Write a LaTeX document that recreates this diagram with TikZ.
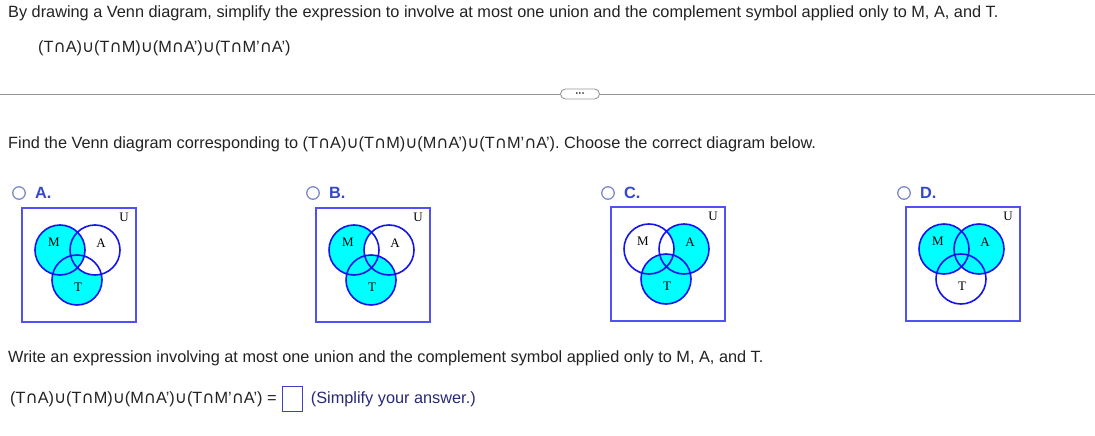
\documentclass[tikz,border=0pt]{standalone}
\usepackage{fontspec}
\setmainfont{Liberation Sans}
\newfontfamily\vennfont{Liberation Serif}
\newfontfamily\setsymfont[Scale=1.02]{DejaVu Sans}
\newcommand{\ucup}{{\setsymfont ∪}}
\newcommand{\icap}{{\setsymfont ∩}}
\usetikzlibrary{positioning}

\definecolor{textgray}{RGB}{34,34,34}
\definecolor{optblue}{RGB}{52,72,200}
\definecolor{radiogray}{RGB}{125,140,200}
\definecolor{rulegray}{RGB}{150,150,150}
\definecolor{vennblue}{RGB}{20,20,235}
\definecolor{boxblue}{RGB}{80,80,245}
\definecolor{venncyan}{RGB}{0,255,255}
\definecolor{hintblue}{RGB}{40,40,120}

\begin{document}
\begin{tikzpicture}
  [x=1pt,y=1pt,
   txt/.style={anchor=base west,inner sep=0pt,text=textgray,font=\fontsize{16.3}{19}\selectfont},
   radio/.style={circle,draw=radiogray,line width=1.3pt,minimum size=12.5pt,inner sep=0pt},
   optlbl/.style={anchor=west,inner sep=0pt,text=optblue,font=\fontsize{16.3}{19}\selectfont\bfseries},
   vennlbl/.style={inner sep=0pt,font=\vennfont\fontsize{13}{13}\selectfont},
   venncircle/.style={draw=vennblue,line width=1.6pt},
   vennbox/.style={draw=boxblue,line width=1.6pt},
   rule/.style={draw=rulegray,line width=0.8pt}]
  \useasboundingbox (0,0) rectangle (1095,-436);

  \node[txt] (intro) at (8,-18) {By drawing a Venn diagram, simplify the expression to involve at most one union and the complement symbol applied only to M, A, and T.};
  \node[txt] (given) at (38,-53) {(T\icap A)\ucup(T\icap M)\ucup(M\icap A')\ucup(T\icap M'\icap A')};

  % divider with the "more" button
  \node[draw=rulegray,line width=0.9pt,rounded corners=5pt,minimum width=39pt,minimum height=10pt,inner sep=0pt] (more) at (580,-94)
    {\fontsize{6}{6}\selectfont\textbullet\,\textbullet\,\textbullet};
  \draw[rule] (0,-94) -- (more.west);
  \draw[rule] (more.east) -- (1095,-94);

  \node[txt] (find) at (8,-148) {Find the Venn diagram corresponding to (T\icap A)\ucup(T\icap M)\ucup(M\icap A')\ucup(T\icap M'\icap A'). Choose the correct diagram below.};

  % answer choices
  \foreach \p/\rx/\L in {a/19/A,b/313/B,c/608/C,d/904/D}
  {
    \node[radio] (r\p) at (\rx,-193) {};
    \node[optlbl,right=9pt of r\p] (l\p) {\L.};
  }

  % venn diagrams: fill X, then Y without Z
  \foreach \p/\x/\y/\fx/\fy/\fz in {a/22/208/M/T/A,b/316/208/T/M/A,c/611/207/T/A/M,d/906/207/M/A/M}
  {
    \coordinate (\p-M) at (\x+38,-\y-42);
    \coordinate (\p-A) at (\x+73,-\y-42);
    \coordinate (\p-T) at (\x+55,-\y-72);
    \fill[venncyan] (\p-\fx) circle (25pt);
    \begin{scope}
      \clip (\p-\fy) circle (25pt);
      \fill[venncyan,even odd rule] (\p-\fy) circle (25pt) (\p-\fz) circle (25pt);
    \end{scope}
    \draw[venncircle] (\p-M) circle (25pt) (\p-A) circle (25pt) (\p-T) circle (25pt);
    \draw[vennbox] (\x,-\y) rectangle ++(114,-114);
    \node[vennlbl] (\p-lm) at (\x+32,-\y-34) {M};
    \node[vennlbl] (\p-la) at (\x+79,-\y-35) {A};
    \node[vennlbl] (\p-lt) at (\x+56,-\y-79) {T};
    \node[vennlbl] (\p-lu) at (\x+102,-\y-9) {U};
  }

  \node[txt] (ask) at (8,-362) {Write an expression involving at most one union and the complement symbol applied only to M, A, and T.};
  \node[txt] (answer) at (10,-403) {(T\icap A)\ucup(T\icap M)\ucup(M\icap A')\ucup(T\icap M'\icap A') =};
  \node[draw=boxblue!80!black,line width=0.8pt,minimum width=20pt,minimum height=25pt,inner sep=0pt,right=5pt of answer] (ansbox) {};
  \node[anchor=west,inner sep=0pt,text=hintblue,font=\fontsize{16.3}{19}\selectfont,right=8pt of ansbox] (hint) {(Simplify your answer.)};

\end{tikzpicture}
\end{document}
